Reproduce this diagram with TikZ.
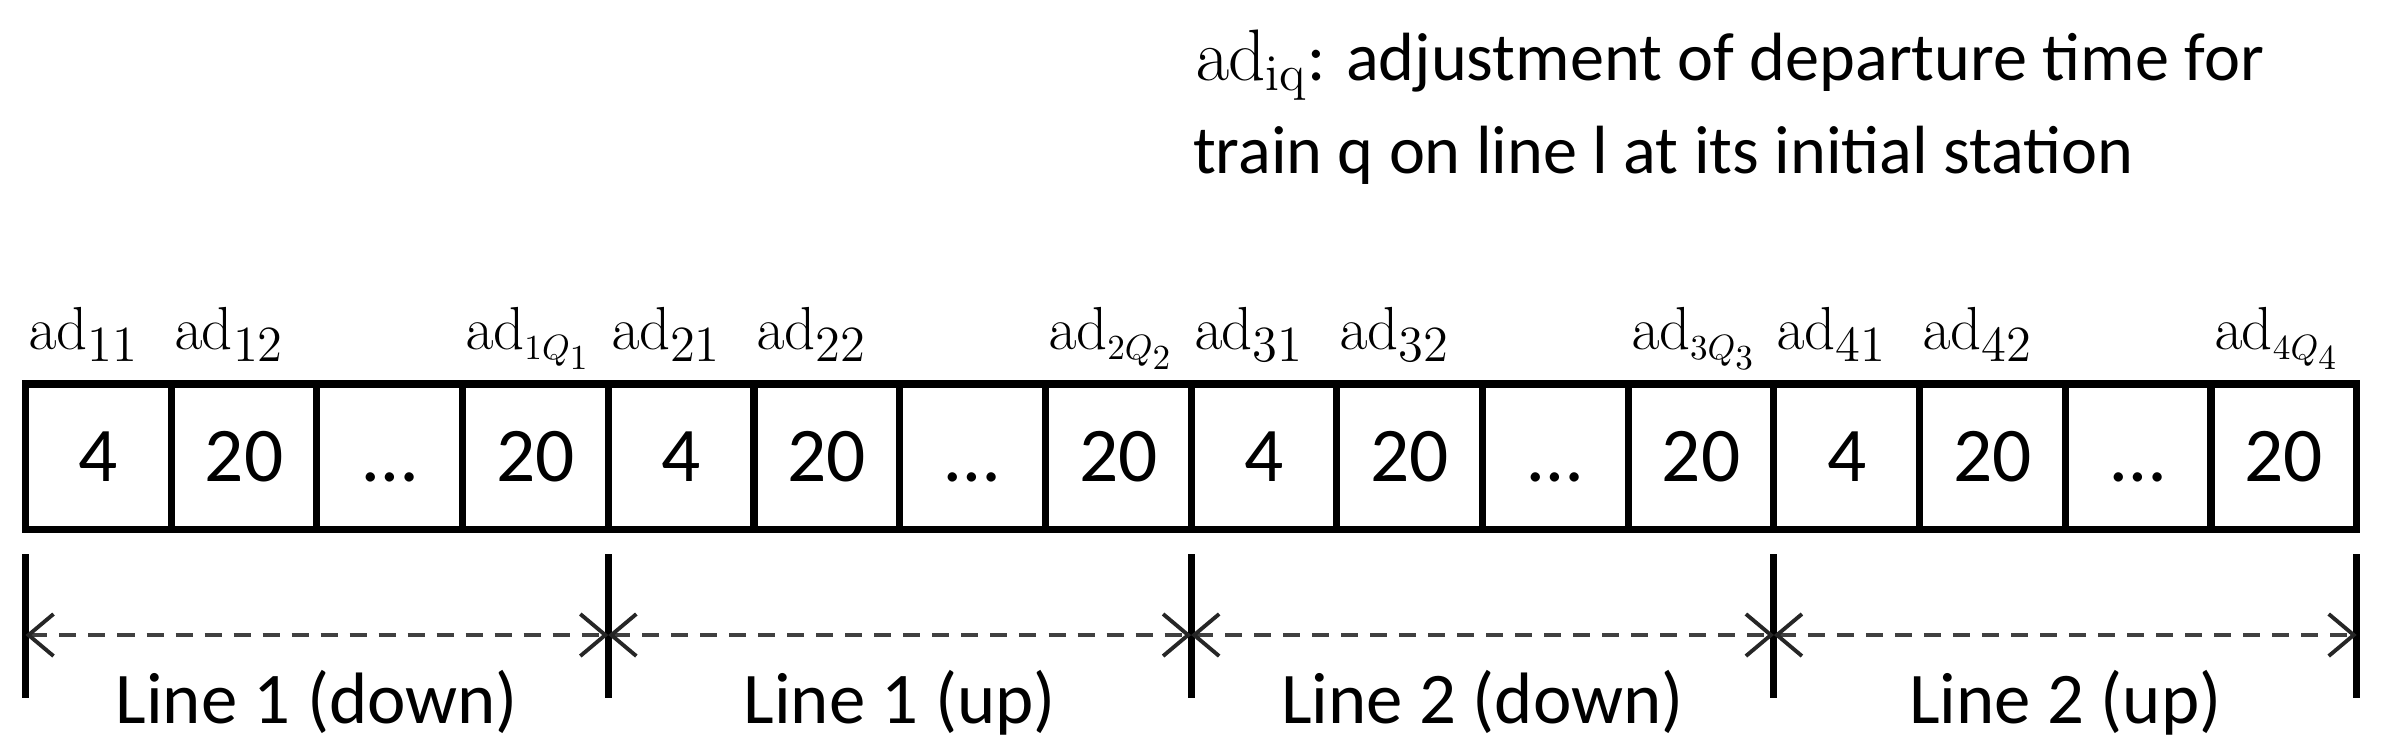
\documentclass[tikz,border=0pt]{standalone}
\usepackage[no-math]{fontspec}
\setmainfont{Carlito}
\usetikzlibrary{arrows.meta}
\DeclareMathSizes{17.28}{17.28}{14.4}{10}
\DeclareMathSizes{20.74}{20.74}{14.4}{10}
\definecolor{dashgray}{HTML}{404040}
\tikzset{
  cell/.style={draw=black, line width=2pt, minimum width=1.457cm, minimum height=1.45cm,
    inner sep=0pt, outer sep=0pt, text height=0.49cm, text depth=0pt,
    font=\fontsize{22}{26.8}\selectfont},
  lab/.style={inner sep=0pt, outer sep=0pt, font=\fontsize{17.28}{20}\selectfont},
  txt/.style={inner sep=0pt, outer sep=0pt, font=\fontsize{20.7}{25}\selectfont},
  ttl/.style={inner sep=0pt, outer sep=0pt, font=\fontsize{19.4}{24}\selectfont},
  tickline/.style={draw=black, line width=2pt},
  dimline/.style={draw=dashgray, line width=1.3pt, dash pattern=on 0.17cm off 0.12cm,
    {Straight Barb[length=0.25cm, width=0.42cm, line width=1.1pt, color=black!85]}-{Straight Barb[length=0.25cm, width=0.42cm, line width=1.1pt, color=black!85]}}
}
\begin{document}
\begin{tikzpicture}[x=0.01cm, y=-0.01cm]
\useasboundingbox (0,0) rectangle (2383,750);
% title
\node[ttl, anchor=base west] (title1) at (1195,80)
  {{\fontsize{20.74}{24}\selectfont$\mathrm{ad}_{\mathrm{iq}}$}: adjustment of departure time for};
\node[ttl, anchor=base west] (title2) at (1193,173) {train q on line l at its initial station};
% cells
\foreach \t [count=\i from 0] in {4,20,…,20,4,20,…,20,4,20,…,20,4,20,…,20}
  \node[cell] (b\i) at ({25.5+145.7*(\i+0.5)},456.5) {\t};
% labels
\foreach \g in {1,...,4}{
  \pgfmathtruncatemacro{\ia}{4*(\g-1)}
  \pgfmathtruncatemacro{\ib}{4*(\g-1)+1}
  \pgfmathtruncatemacro{\ic}{4*(\g-1)+3}
  \node[lab, anchor=base west] (la\g) at ([xshift=0.03cm, yshift=0.34cm]b\ia.north west) {$\mathrm{ad}_{\g1}$};
  \node[lab, anchor=base west] (lb\g) at ([xshift=0.03cm, yshift=0.34cm]b\ib.north west) {$\mathrm{ad}_{\g2}$};
  \node[lab, anchor=base west] (lc\g) at ([xshift=0.03cm, yshift=0.34cm]b\ic.north west) {$\mathrm{ad}_{\scriptscriptstyle\g Q_\g}$};
}
% ticks and dimension lines
\foreach \k in {0,...,4}{
  \coordinate (tt\k) at ({25.5+582.8*\k},554);
  \coordinate (tb\k) at ({25.5+582.8*\k},698);
  \coordinate (m\k) at ({25.5+582.8*\k},635);
  \draw[tickline] (tt\k) -- (tb\k);
}
\foreach \k [evaluate=\k as \kk using int(\k+1)] in {0,...,3}
  \draw[dimline] (m\k) -- (m\kk);
\foreach \s [count=\k from 0] in {Line 1 (down),Line 1 (up),Line 2 (down),Line 2 (up)}
  \node[txt, anchor=base] (name\k) at ({25.5+582.8*(\k+0.5)},723) {\s};
\end{tikzpicture}
\end{document}
